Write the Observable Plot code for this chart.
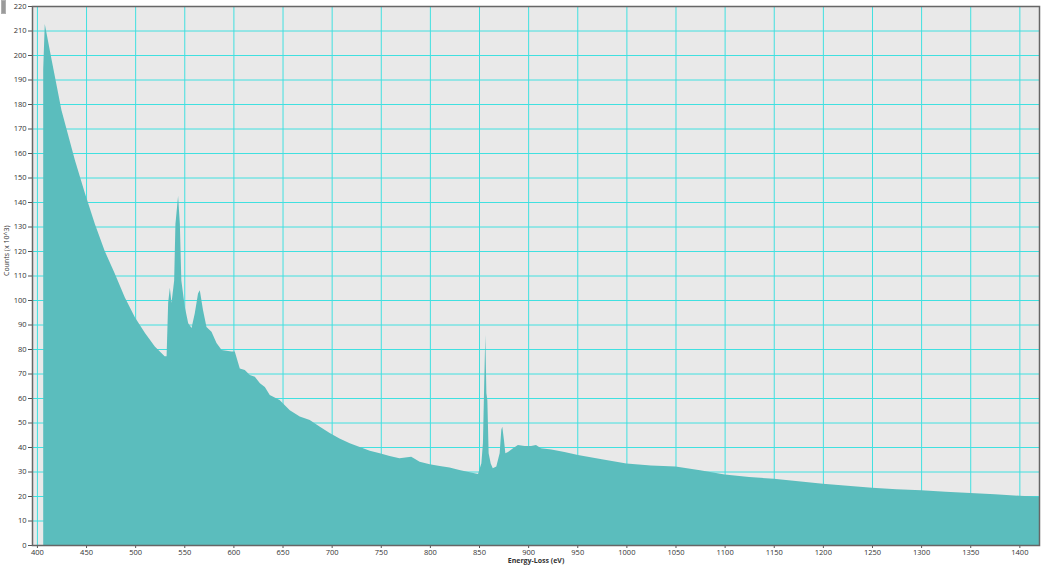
<!DOCTYPE html>
<html><head><meta charset="utf-8">
<script src="https://cdn.jsdelivr.net/npm/d3@7"></script>
<script src="https://cdn.jsdelivr.net/npm/@observablehq/plot@0.6"></script>
<style>
html,body{margin:0;padding:0;background:#fff;}
#wrap{position:relative;width:1050px;height:565px;}
#knob{position:absolute;left:1px;top:0;width:5px;height:14px;background:#9a9a9a;border:1px solid #b0b0b0;box-sizing:border-box;}
svg{display:block;}
</style></head>
<body><div id="wrap"><div id="knob"></div></div>
<script>
const energy = [406.4,408,415,425,438.7,448.8,459,469,479,489.5,499.7,510,520,530,532,533.6,535.3,537,539.7,541,543.7,545.5,547,550.6,554,557.4,560.7,564,565.8,569,572.6,577.7,582.8,588,598,601.4,606.5,611.6,616.7,621.8,627,632,637,647,657.4,667.5,677.7,688,698,708,718.4,728.6,738.8,749,759,769,781,789.6,799.8,810,820,830,840.5,849,852.4,854,855,856.4,857.5,858.5,859.8,861.9,864,867.6,871,872.7,873.7,875.4,876.8,879.5,884.6,889.6,896.4,903,908,913,923.6,937,950.7,975,1000,1025,1050,1075,1100,1125,1150,1175,1200,1225,1250,1275,1300,1325,1350,1375,1400,1420];
const counts = [194,212.7,198,177.5,157,143.7,131,120,111,101,93,86.5,81,77,77,99,105,98.8,108,131,142.4,131,108,97,90.5,88.6,94.6,102.7,104,96,89,87,82.4,79.6,79,79,72,71.4,69.4,68.7,66,64.5,61.2,59.2,55,52.4,51,48.3,45.7,43.5,41.5,40,38.5,37.4,36.3,35.4,36,34,33,32.2,31.6,30.6,29.7,29,33.4,41.6,60.5,85.7,62,59,37.5,33.3,31.3,32,37.4,47,48.3,42.9,37.4,38,39.5,40.8,40.4,40.4,40.8,39.5,39,38,36.7,35,33.3,32.5,32,30.5,28.8,27.8,27,26,25,24.2,23.4,22.8,22.3,21.7,21.2,20.7,20.1,19.7];
const xTicks = d3.range(400, 1401, 50);
const yTicks = d3.range(0, 221, 10);
const data = energy.map((e,i)=>({e, c: counts[i]}));

const grid = "#40e0e0";
const chart = Plot.plot({
  width: 1050, height: 565,
  marginLeft: 32, marginRight: 11, marginTop: 6, marginBottom: 20,
  style: {fontFamily: "'Open Sans', 'DejaVu Sans', sans-serif", fontSize: "8px", color: "#333", background: "transparent"},
  x: {domain: [395, 1420], label: null},
  y: {domain: [0, 220], label: null},
  marks: [
    Plot.frame({fill: "#e9e9e9", stroke: null}),
    Plot.ruleX(xTicks, {stroke: grid, strokeWidth: 1}),
    Plot.ruleY(yTicks, {stroke: grid, strokeWidth: 1}),
    Plot.areaY(data, {x: "e", y: "c", fill: "#5bbdbd", curve: "linear"}),
    Plot.axisX({ticks: xTicks, tickFormat: d3.format("d"), tickSize: 3, tickPadding: 1, fontSize: 7.5, stroke: "#555", label: null}),
    Plot.axisY({ticks: yTicks, tickFormat: d3.format("d"), tickSize: 4, tickPadding: 2, fontSize: 7.5, stroke: "#555", label: null}),
    Plot.frame({stroke: "#666", strokeWidth: 1.5}),
    Plot.text(["Energy-Loss (eV)"], {frameAnchor: "bottom", lineAnchor: "middle", dy: 15, fontSize: 7, fontWeight: "bold", fill: "#333"}),
    Plot.text(["Counts (x 10^3)"], {frameAnchor: "left", dx: -26, rotate: -90, fontSize: 7, fill: "#333"})
  ]
});
document.getElementById("wrap").appendChild(chart);
</script></body></html>
